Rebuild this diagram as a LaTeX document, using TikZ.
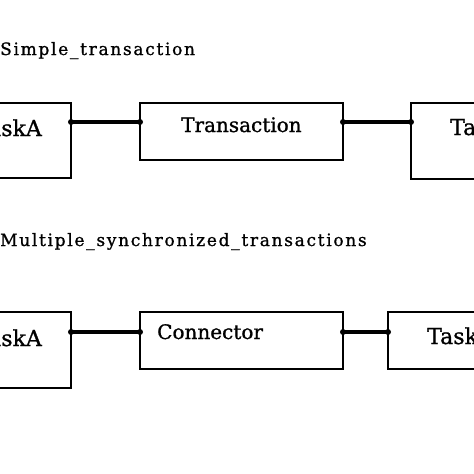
\documentclass[tikz,border=0pt]{standalone}
\usepackage{fontspec}
\setmainfont[FakeBold=1]{DejaVu Serif}
\newfontfamily\titlefont[LetterSpace=10,FakeBold=1]{DejaVu Serif}
\begin{document}
\begin{tikzpicture}[x=1pt,y=-1pt,
  box/.style={draw,line width=1.5pt,inner sep=0pt},
  conn/.style={line width=4.3pt},
  dotend/.style={fill,radius=3pt},
  tasktxt/.style={inner sep=0pt,font=\fontsize{22}{26}\selectfont},
  boxtxt/.style={inner sep=0pt,font=\fontsize{20}{24}\selectfont},
  titletxt/.style={inner sep=0pt,anchor=base west,font=\titlefont\fontsize{17}{20}\selectfont}]
\useasboundingbox (0,0) rectangle (474,474);
\clip (0,0) rectangle (474,474);
% titles
\node[titletxt] (t1) at (0,55) {Simple\_transaction};
\node[titletxt] (t2) at (0,246) {Multiple\_synchronized\_transactions};
% top row
\draw[box] (-20,103) rectangle (71,178);
\coordinate (ta1ne) at (71,103);
\draw[box] (140,103) rectangle (343,160);
\coordinate (tr1nw) at (140,103);
\coordinate (tr1ne) at (343,103);
\draw[box] (411,103) rectangle (500,179);
\coordinate (tb1nw) at (411,103);
\node[tasktxt,anchor=base east] (ta1) at (42,136) {TaskA};
\node[boxtxt,anchor=base west] (tr1) at (181,132) {Transaction};
\node[tasktxt,anchor=base west] (tb1) at (450,135) {TaskB};
\coordinate (c1a) at ([yshift=-19pt]ta1ne);
\coordinate (c1b) at ([yshift=-19pt]tr1nw);
\coordinate (c2a) at ([yshift=-19pt]tr1ne);
\coordinate (c2b) at ([yshift=-19pt]tb1nw);
\draw[conn] (c1a) -- (c1b);
\draw[conn] (c2a) -- (c2b);
\foreach \p in {c1a,c1b,c2a,c2b} \fill[dotend] (\p) circle;
% bottom row
\draw[box] (-20,312) rectangle (71,388);
\coordinate (ta2ne) at (71,312);
\draw[box] (140,312) rectangle (343,369);
\coordinate (cn2nw) at (140,312);
\coordinate (cn2ne) at (343,312);
\draw[box] (388,312) rectangle (500,369);
\coordinate (tb2nw) at (388,312);
\node[tasktxt,anchor=base east] (ta2) at (42,346) {TaskA};
\node[boxtxt,anchor=base west] (cn2) at (157,339) {Connector};
\node[tasktxt,anchor=base west] (tb2) at (427,344) {TaskB};
\coordinate (d1a) at ([yshift=-20pt]ta2ne);
\coordinate (d1b) at ([yshift=-20pt]cn2nw);
\coordinate (d2a) at ([yshift=-20pt]cn2ne);
\coordinate (d2b) at ([yshift=-20pt]tb2nw);
\draw[conn] (d1a) -- (d1b);
\draw[conn] (d2a) -- (d2b);
\foreach \p in {d1a,d1b,d2a,d2b} \fill[dotend] (\p) circle;
\end{tikzpicture}
\end{document}
